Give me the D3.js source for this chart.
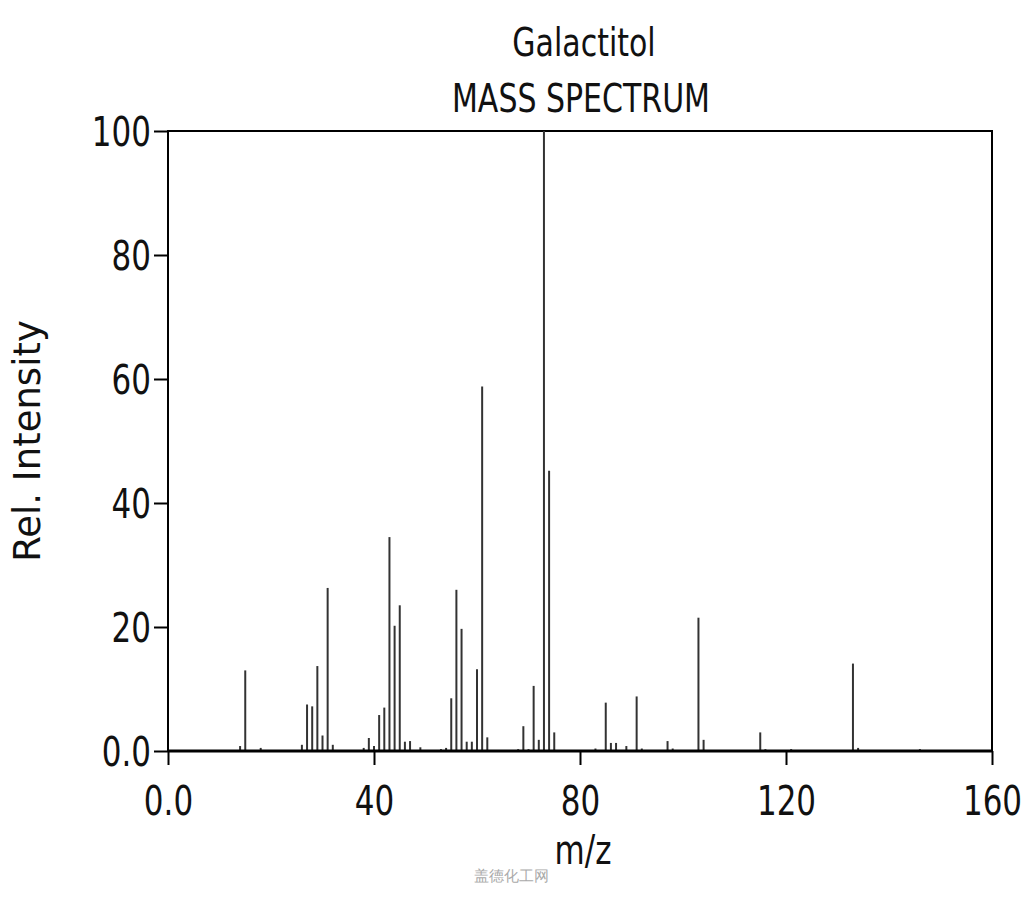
<!DOCTYPE html>
<html><head><meta charset="utf-8">
<script src="https://cdn.jsdelivr.net/npm/d3@7"></script>
<style>body{margin:0;background:#fff}svg{display:block}text{font-family:"DejaVu Sans",sans-serif}</style>
</head><body><div id="chart"></div>
<script>
// peak list (m/z, relative intensity)
var mz =        [14, 15, 18, 26, 27, 28, 29, 30, 31, 32, 38, 39, 40, 41, 42, 43, 44, 45, 46, 47, 49, 53, 54, 55, 56, 57, 58, 59, 60, 61, 62, 68, 69, 70, 71, 72, 73, 74, 75, 83, 85, 86, 87, 89, 91, 92, 97, 98, 103, 104, 115, 116, 121, 133, 134, 146];
var intensity = [0.8,13, 0.5,1.0,7.5,7.2,13.7,2.5,26.3,1.0,0.5,2.1,0.8,5.8,7.0,34.5,20.2,23.5,1.5,1.6,0.6,0.3,0.5,8.5,26, 19.7,1.5,1.5,13.2,58.8,2.2,0.3,4.0,0.3,10.5,1.8,100,45.2,3.0,0.4,7.8,1.3,1.3,0.8,8.8,0.4,1.6,0.4,21.5,1.8,3.0,0.3,0.3,14.1,0.5,0.3];
var xTicks = [0, 40, 80, 120, 160];
var xTickLabels = ["0.0", "40", "80", "120", "160"];
var yTicks = [0, 20, 40, 60, 80, 100];
var yTickLabels = ["0.0", "20", "40", "60", "80", "100"];

var svg = d3.select("#chart").append("svg").attr("width", 1024).attr("height", 900);
var x = d3.scaleLinear().domain([0, 160]).range([168, 992]);
var y = d3.scaleLinear().domain([0, 100]).range([751, 131]);

svg.append("rect").attr("x", 168).attr("y", 131).attr("width", 824).attr("height", 620)
	.attr("fill", "none").attr("stroke", "#000").attr("stroke-width", 2);

svg.selectAll("line.peak").data(mz).enter().append("line")
	.attr("class", "peak")
	.attr("x1", function(d){ return x(d); }).attr("x2", function(d){ return x(d); })
	.attr("y1", y(0)).attr("y2", function(d, i){ return y(intensity[i]); })
	.attr("stroke", "#333").attr("stroke-width", 2);

// x axis
var xAxis = svg.append("g").attr("transform", "translate(0,751)");
xAxis.call(d3.axisBottom(x).tickValues(d3.range(0, 161, 10)).tickSize(6).tickFormat(""));
xAxis.call(d3.axisBottom(x).tickValues(xTicks).tickSize(14).tickFormat(function(d, i){ return xTickLabels[i]; }));
xAxis.selectAll("path").remove();
xAxis.selectAll("line").attr("stroke", "#000").attr("stroke-width", 2);
xAxis.selectAll("text").attr("font-size", 31).attr("y", 0).attr("dy", 0)
	.attr("transform", "translate(0,64) scale(1,1.3)").attr("fill", "#111");
svg.append("line").attr("x1", 168).attr("x2", 992).attr("y1", 751).attr("y2", 751).attr("stroke", "#000").attr("stroke-width", 3);

// y axis
var yAxis = svg.append("g").attr("transform", "translate(168,0)");
yAxis.call(d3.axisLeft(y).tickValues(d3.range(0, 101, 5)).tickSize(7).tickFormat(""));
yAxis.call(d3.axisLeft(y).tickValues(yTicks).tickSize(14).tickFormat(function(d, i){ return yTickLabels[i]; }));
yAxis.selectAll("path").remove();
yAxis.selectAll("line").attr("stroke", "#000").attr("stroke-width", 2);
yAxis.selectAll("text").attr("font-size", 31).attr("y", 0).attr("dy", 0)
	.attr("transform", "translate(-17,14) scale(1,1.3)").attr("x", 0).attr("fill", "#111");

function label(txt, tx, ty, size, rot, sy) {
	svg.append("text").attr("text-anchor", "middle").attr("font-size", size)
		.attr("transform", "translate(" + tx + "," + ty + ")" + (rot ? " rotate(-90)" : "") + " scale(1," + sy + ")")
		.attr("fill", "#111").text(txt);
}
label("Galactitol", 584, 56, 30, false, 1.3);
label("MASS SPECTRUM", 581, 112, 30, false, 1.3);
label("m/z", 583, 864, 31, false, 1.3);
label("Rel. Intensity", 40, 441, 37, true, 1.0);
svg.append("text").attr("x", 511).attr("y", 881).attr("text-anchor", "middle").attr("font-size", 15).attr("fill", "#aaa")
	.attr("font-family", "Noto Sans CJK SC").text("盖德化工网");
</script></body></html>
